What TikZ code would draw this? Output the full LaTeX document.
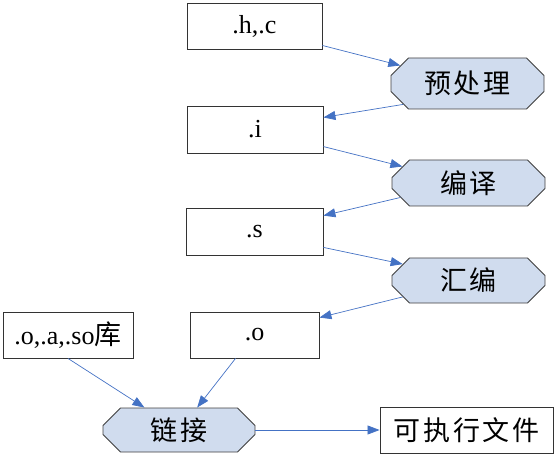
\documentclass[tikz,border=0pt]{standalone}
\usepackage{fontspec}
\setmainfont{Liberation Serif}
\newfontfamily\cjk[LetterSpace=10]{Noto Sans CJK SC}
\usepackage{xcolor}
\usepackage{tikz}
\definecolor{flowblue}{RGB}{68, 114, 196}
\definecolor{stepfill}{RGB}{208, 220, 238}
\definecolor{stepline}{RGB}{64, 64, 64}
\usetikzlibrary{shapes.misc, arrows.meta, positioning, calc}

\begin{document}
\begin{tikzpicture}[
    x=1pt, y=-1pt,
    file/.style={rectangle, draw=black!80, fill=white, line width=0.9pt,
                 inner sep=0pt, font=\fontsize{26}{26}\selectfont},
    stage/.style={chamfered rectangle, chamfered rectangle xsep=14pt,
                  chamfered rectangle ysep=5pt, draw=stepline, fill=stepfill,
                  line width=0.9pt, inner sep=0pt, minimum width=153pt,
                  font=\fontsize{27}{27}\selectfont\cjk},
    flow/.style={-{Triangle[length=12pt, width=9pt]}, draw=flowblue,
                 line width=0.7pt}
]
    \useasboundingbox (0,0) rectangle (557,457);
    % source files and stages
    \node[file, minimum width=135pt, minimum height=46pt] (hc) at (254.5,26) {.h,.c};
    \node[stage, minimum height=51pt] (pre) at (467.5,83.5) {预处理};
    \node[file, minimum width=136pt, minimum height=47pt] (i) at (255,129.5) {.i};
    \node[stage, minimum height=46pt] (comp) at (468.5,183) {编译};
    \node[file, minimum width=137pt, minimum height=47pt] (s) at (254.5,231.5) {.s};
    \node[stage, minimum height=45pt] (asm) at (468.5,280.5) {汇编};
    \node[file, minimum width=129pt, minimum height=46pt] (o) at (254.5,335) {.o};
    \node[file, minimum width=130pt, minimum height=46pt] (lib) at (68,335) {.o,.a,.so{\cjk\fontsize{27}{27}\selectfont 库}};
    \node[stage, minimum width=152pt, minimum height=44pt] (link) at (179,430) {链接};
    \node[file, minimum width=173pt, minimum height=46pt, font=\fontsize{27}{27}\selectfont\cjk] (exe) at (466.5,430) {可执行文件};

    % connectors
    \draw[flow] (hc.-16) -- (pre.165);
    \draw[flow] (pre.198) -- (i.10);
    \draw[flow] (i.-14) -- (comp.166);
    \draw[flow] (comp.192) -- (s.13);
    \draw[flow] (s.-13) -- (asm.166);
    \draw[flow] (asm.194) -- (o.15);
    \draw[flow] (lib.south) -- (link.147);
    \draw[flow] (o.231) -- (link.51);
    \draw[flow] (link.east) -- (exe.west);
\end{tikzpicture}
\end{document}
